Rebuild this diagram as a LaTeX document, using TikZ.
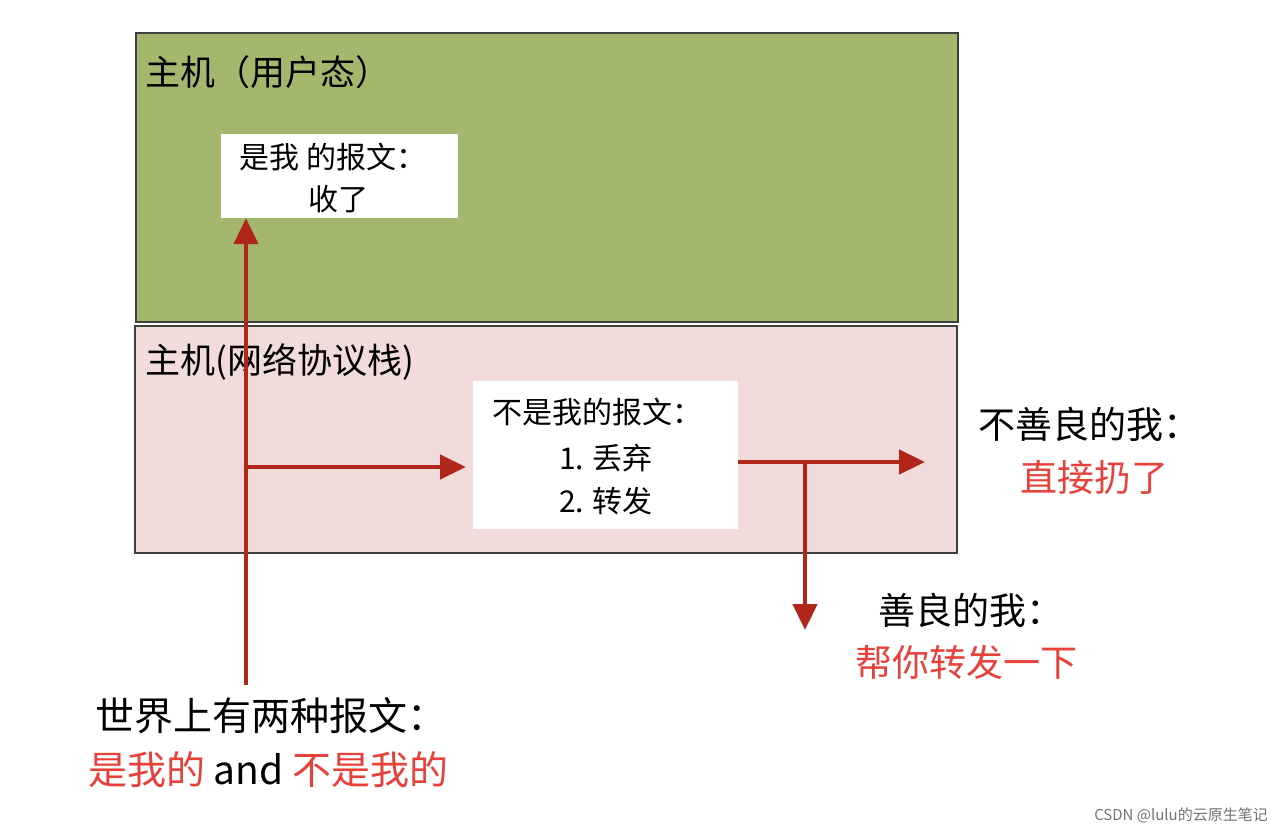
\documentclass[tikz,border=0pt]{standalone}
\usepackage{fontspec}
\setmainfont{Noto Sans CJK SC}
\usetikzlibrary{arrows.meta}
\definecolor{grn}{HTML}{A3B86C}
\definecolor{pnk}{HTML}{F2DCDB}
\definecolor{arr}{HTML}{B0261B}
\definecolor{rd}{HTML}{E8413A}
\begin{document}
\begin{tikzpicture}[x=1pt,y=-1pt,
  box/.style={draw=black!75,line width=1.2pt},
  wbox/.style={fill=white,draw=none},
  ar/.style={draw=arr,line width=4.5pt,-{Triangle[length=26pt,width=24pt]}},
  t/.style={anchor=west,inner sep=0pt,font=\fontsize{37}{40}\selectfont},
  bt/.style={inner sep=0pt,font=\fontsize{30}{34}\selectfont,align=center}]
\useasboundingbox[fill=white] (0,0) rectangle (1284,832);
\draw[box,fill=grn] (136,33) rectangle (958,322);
\draw[box,fill=pnk] (135,326) rectangle (957,553);
\node[wbox,minimum width=237pt,minimum height=84pt] (b1) at (339.5,176) {};
\node[bt] at (333,157) {是我 的报文：};
\node[bt] at (338,199) {收了};
\node[wbox,minimum width=265pt,minimum height=148pt] (b2) at (605.5,455) {};
\node[bt] at (597,412) {不是我的报文：};
\node[bt] at (606,458) {1. 丢弃};
\node[bt] at (606,501) {2. 转发};
\node[t,font=\fontsize{35}{40}\selectfont] at (145,72) {主机（用户态）};
\node[t,font=\fontsize{35}{40}\selectfont] at (145,362) {主机(网络协议栈)};
\node[t] at (978,424) {不善良的我：};
\node[t,text=rd] at (1020,477) {直接扔了};
\node[t] at (878,610) {善良的我：};
\node[t,text=rd] at (855,662) {帮你转发一下};
\node[t,font=\fontsize{39}{42}\selectfont] at (95,716) {世界上有两种报文：};
\node[t,font=\fontsize{39}{42}\selectfont] at (88,770) {\textcolor{rd}{是我的} and \textcolor{rd}{不是我的}};
\node[anchor=east,inner sep=0pt,text=black!55,font=\fontsize{15}{16}\selectfont] at (1268,815) {CSDN @lulu的云原生笔记};
\coordinate (s) at (246,685);
\coordinate (j) at (246,467);
\coordinate (e1) at (466,467);
\coordinate (k) at (805,462);
\coordinate (e2) at (925,462);
\coordinate (e3) at (805,630);
\draw[ar] (s) -- (b1.south -| s);
\draw[ar] (j) -- (e1);
\draw[ar] (b2.east |- k) -- (e2);
\draw[ar] (k) -- (e3);
\end{tikzpicture}
\end{document}
